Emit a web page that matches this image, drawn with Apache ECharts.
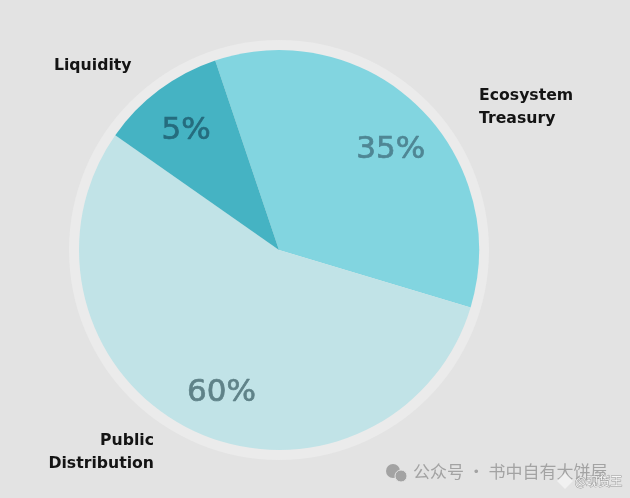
<!DOCTYPE html>
<html>
<head>
<meta charset="utf-8">
<style>
  html, body { margin: 0; padding: 0; background: #e3e3e3; }
  #chart { width: 630px; height: 498px; }
</style>
<script src="https://cdn.jsdelivr.net/npm/echarts@6/dist/echarts.min.js"></script>
</head>
<body>
<div id="chart"></div>
<script>
// slice sizes as drawn; the printed percentages in the picture do not match them
var names = ['Ecosystem\nTreasury', 'Public\nDistribution', 'Liquidity'];
var sliceValues = [34.8, 55.1, 10.1];
var percentLabels = ['35%', '60%', '5%'];
var sliceColors = ['#82d5e0', '#c1e3e7', '#45b3c3'];
var percentColors = ['#4f8694', '#5f8288', '#256c7e'];
var nameSpots = [
  { x: 479, y: 107, align: 'left' },
  { x: 154, y: 452, align: 'right' },
  { x: 54, y: 66, align: 'left' }
];
var percentNudge = [[4, 11], [10, 3], [0, 5]];

var center = [279, 250];
var startAngle = 108.6;

function sliceData() {
  return sliceValues.map(function (v, i) {
    return {
      value: v, name: names[i],
      label: { formatter: percentLabels[i], color: percentColors[i], textBorderColor: percentColors[i], textBorderWidth: 0.7 }
    };
  });
}

var myChart = echarts.init(document.getElementById('chart'));
myChart.setOption({
  backgroundColor: '#e3e3e3',
  animation: false,
  series: [
    {
      type: 'pie', center: center, radius: [0, 210], silent: true,
      label: { show: false }, labelLine: { show: false },
      data: [{ value: 1, itemStyle: { color: '#ebebeb' } }]
    },
    {
      type: 'pie', center: center, radius: [0, 200], startAngle: startAngle, silent: true,
      data: sliceValues.map(function (v, i) {
        return { value: v, name: names[i], itemStyle: { color: sliceColors[i] } };
      }),
      label: {
        show: true, position: 'outside', color: '#141414',
        fontFamily: 'DejaVu Sans', fontWeight: 'bold', fontSize: 15.7, lineHeight: 23
      },
      labelLine: { show: false },
      labelLayout: function (params) {
        var s = nameSpots[params.dataIndex];
        return { x: s.x, y: s.y, align: s.align, verticalAlign: 'middle' };
      }
    },
    {
      // ring only carries the percent labels at mid radius
      type: 'pie', center: center, radius: [104, 200], startAngle: startAngle, silent: true,
      itemStyle: { color: 'transparent' },
      label: { show: true, position: 'inside', fontFamily: 'DejaVu Sans', fontSize: 31 },
      labelLine: { show: false },
      labelLayout: function (params) {
        var n = percentNudge[params.dataIndex];
        return { dx: n[0], dy: n[1] };
      },
      data: sliceData()
    }
  ],
  graphic: [
    { type: 'circle', shape: { cx: 393, cy: 471, r: 7 }, style: { fill: '#a3a3a3' } },
    { type: 'circle', shape: { cx: 401, cy: 476, r: 6 }, style: { fill: '#a3a3a3', stroke: '#e3e3e3', lineWidth: 1 } },
    {
      type: 'text', x: 413, y: 463,
      style: { text: '公众号 · 书中自有大饼屋', fill: '#a3a3a3', font: '17px "Noto Sans CJK SC"' }
    },
    {
      type: 'polygon', shape: { points: [[565, 473], [573, 481], [565, 489], [557, 481]] },
      style: { fill: '#f3f3f3', opacity: 0.85 }
    },
    {
      type: 'text', x: 575, y: 475,
      style: { text: '@现货王', fill: '#f8f8f8', font: '12px "Noto Sans CJK SC"', stroke: '#9a9a9a', lineWidth: 1 }
    }
  ]
});
</script>
</body>
</html>
